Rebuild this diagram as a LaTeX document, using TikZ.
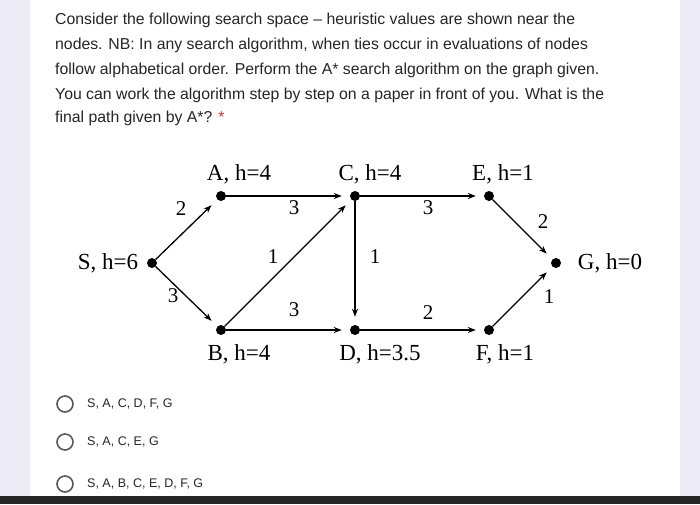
\documentclass[tikz,border=0pt]{standalone}
\usepackage{fontspec}
\setmainfont{Liberation Serif}
\newfontfamily\uifont{Liberation Sans}
\usetikzlibrary{arrows.meta}
\definecolor{bgl}{HTML}{EDEBF6}
\definecolor{req}{HTML}{D93025}
\begin{document}
\begin{tikzpicture}[x=1pt,y=-1pt,
  vtx/.style={circle,fill=black,inner sep=0pt,minimum size=10pt},
  edge/.style={draw,line width=1.3pt,-{Stealth[length=8pt,width=6pt]},shorten >=8pt},
  lbl/.style={font=\fontsize{23}{23}\selectfont,inner sep=0pt},
  wl/.style={font=\fontsize{21}{21}\selectfont,inner sep=0pt},
  qtext/.style={font=\uifont\fontsize{15.8}{15.8}\selectfont,anchor=west,inner sep=0pt,text=black!85},
  opt/.style={font=\uifont\fontsize{12.5}{12.5}\selectfont,anchor=west,inner sep=0pt,text=black!85},
  radio/.style={circle,draw=black!65,line width=1.6pt,minimum size=16pt,inner sep=0pt}]
\useasboundingbox (0,0) rectangle (700,504);
\fill[bgl] (0,0) rectangle (700,504);
\fill[white] (30,0) rectangle (680,504);
\fill[black!85] (0,496) rectangle (700,504);
% question
\node[qtext] (q1) at (55,20) {Consider the following search space – heuristic values are shown near the};
\node[qtext] (q2) at (55,45) {nodes. NB: In any search algorithm, when ties occur in evaluations of nodes};
\node[qtext] (q3) at (55,70) {follow alphabetical order. Perform the A* search algorithm on the graph given.};
\node[qtext] (q4) at (55,95) {You can work the algorithm step by step on a paper in front of you. What is the};
\node[qtext] (q5) at (55,118) {final path given by A*? \textcolor{req}{*}};
% graph
\node[vtx] (S) at (152,263) {};
\node[vtx] (A) at (221,196) {};
\node[vtx] (C) at (355,196) {};
\node[vtx] (E) at (489,196) {};
\node[vtx] (G) at (556,263) {};
\node[vtx] (B) at (221,330) {};
\node[vtx] (D) at (355,330) {};
\node[vtx] (F) at (489,330) {};
\node[lbl] (lA) at (239,174) {A, h=4};
\node[lbl] (lC) at (370,174) {C, h=4};
\node[lbl] (lE) at (503,174) {E, h=1};
\node[lbl] (lS) at (108,263) {S, h=6};
\node[lbl] (lG) at (610,263) {G, h=0};
\node[lbl] (lB) at (239,354) {B, h=4};
\node[lbl] (lD) at (380,354) {D, h=3.5};
\node[lbl] (lF) at (505,354) {F, h=1};
\path[edge] (S) -- (A);
\path[edge] (S) -- (B);
\path[edge] (A) -- (C);
\path[edge] (B) -- (C);
\path[edge] (B) -- (D);
\path[edge] (C) -- (D);
\path[edge] (C) -- (E);
\path[edge] (D) -- (F);
\path[edge] (E) -- (G);
\path[edge] (F) -- (G);
\node[wl] (w1) at (181,209) {2};
\node[wl] (w2) at (173,296) {3};
\node[wl] (w3) at (294,208) {3};
\node[wl] (w4) at (273,257) {1};
\node[wl] (w5) at (294,310) {3};
\node[wl] (w6) at (375,257) {1};
\node[wl] (w7) at (428,208) {3};
\node[wl] (w8) at (428,313) {2};
\node[wl] (w9) at (543,222) {2};
\node[wl] (w10) at (549,297) {1};
% options
\node[radio] (r1) at (65,404) {};
\node[radio] (r2) at (65,442) {};
\node[radio] (r3) at (65,484) {};
\node[opt] (o1) at (87,404) {S, A, C, D, F, G};
\node[opt] (o2) at (87,442) {S, A, C, E, G};
\node[opt] (o3) at (87,484) {S, A, B, C, E, D, F, G};
\end{tikzpicture}
\end{document}
